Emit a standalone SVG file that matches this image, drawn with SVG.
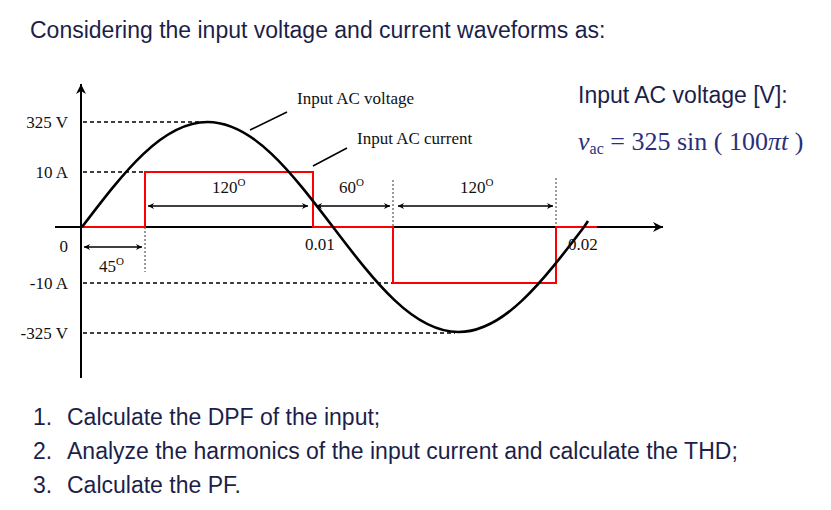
<svg xmlns="http://www.w3.org/2000/svg" width="831" height="510" viewBox="0 0 831 510">
<style>
.t{font-family:"Liberation Serif",serif;font-size:17px;fill:#111}
.s{font-family:"Liberation Sans",Arial,sans-serif;font-size:23px;fill:#1c1f4a}
.d{stroke:#000;stroke-width:1.6;stroke-dasharray:4 3;fill:none}
.v{stroke:#000;stroke-width:0.8;stroke-dasharray:2 2;fill:none}
.a{stroke:#000;stroke-width:1.3;fill:none;marker-start:url(#ah);marker-end:url(#ah)}
</style>
<defs>
<marker id="ah" viewBox="0 0 10 10" refX="10" refY="5" markerWidth="8" markerHeight="6" orient="auto-start-reverse" markerUnits="userSpaceOnUse"><path d="M0,0L10,5L0,10L3,5z" fill="#000"/></marker>
<marker id="big" viewBox="0 0 10 10" refX="10" refY="5" markerWidth="14" markerHeight="10" orient="auto" markerUnits="userSpaceOnUse"><path d="M0,0L10,5L0,10L3,5z" fill="#000"/></marker>
</defs>
<rect width="831" height="510" fill="#fff"/>
<text x="30" y="38" class="s">Considering the input voltage and current waveforms as:</text>
<g id="axes">
<line x1="55" y1="227" x2="663" y2="227" stroke="#000" stroke-width="2" marker-end="url(#big)"/>
<line x1="81" y1="378" x2="81" y2="84" stroke="#000" stroke-width="2" marker-end="url(#big)"/>
</g>
<g id="gridlines">
<line class="d" x1="83" y1="122" x2="205" y2="122"/>
<line class="d" x1="83" y1="172" x2="145" y2="172"/>
<line class="d" x1="83" y1="283" x2="393" y2="283"/>
<line class="d" x1="83" y1="333" x2="455" y2="333"/>
<line class="v" x1="145" y1="227" x2="145" y2="272"/>
<line class="v" x1="393" y1="180" x2="393" y2="227"/>
<line class="v" x1="556" y1="178" x2="556" y2="227"/>
</g>
<g id="ylabels" class="t" text-anchor="end">
<text x="68" y="128">325 V</text>
<text x="68" y="178">10 A</text>
<text x="68" y="252">0</text>
<text x="68" y="289">-10 A</text>
<text x="68" y="339">-325 V</text>
</g>
<g id="current">
<polyline points="82,227 145,227 145,172 313,172 313,227 393,227 393,283 556,283 556,227 597,227" fill="none" stroke="#f00" stroke-width="2"/>
</g>
<g id="voltage">
<path d="M82,227 C123.96,171.9 162.2,122 207.5,122 C252.8,122 291.04,171.9 333,227 C374.96,282.1 413.2,332 458.5,332 C503.8,332 542.04,282.1 584,227 L588,221" fill="none" stroke="#000" stroke-width="2.6" stroke-linejoin="round"/>
</g>
<g id="connectors">
<line class="a" x1="148" y1="206" x2="308" y2="206"/>
<line class="a" x1="316" y1="206" x2="390" y2="206"/>
<line class="a" x1="398" y1="206" x2="553" y2="206"/>
<line class="a" x1="84" y1="247" x2="142" y2="247"/>
<line x1="250" y1="130" x2="287" y2="112" stroke="#000" stroke-width="1.5"/>
<line x1="313" y1="166" x2="347" y2="148" stroke="#000" stroke-width="1.5"/>
</g>
<g id="labels" class="t">
<text x="212" y="193">120<tspan dy="-7" font-size="11">O</tspan></text>
<text x="339" y="193">60<tspan dy="-7" font-size="11">O</tspan></text>
<text x="460" y="193">120<tspan dy="-7" font-size="11">O</tspan></text>
<text x="99" y="272">45<tspan dy="-7" font-size="11">O</tspan></text>
<text x="305" y="250">0.01</text>
<text x="568" y="250">0.02</text>
<text x="297" y="104">Input AC voltage</text>
<text x="357" y="144">Input AC current</text>
</g>
<g id="formula">
<text x="578" y="103" class="s">Input AC voltage [V]:</text>
<text x="578" y="150" style="font-family:'Liberation Serif',serif;font-size:26px;fill:#2b2f7a"><tspan font-style="italic">v</tspan><tspan font-size="16" dy="4">ac</tspan><tspan dy="-4"> = 325 sin ( 100</tspan><tspan font-style="italic">πt</tspan> )</text>
</g>
<g id="questions" class="s">
<text x="33" y="425">1.</text><text x="67" y="425">Calculate the DPF of the input;</text>
<text x="33" y="459">2.</text><text x="67" y="459">Analyze the harmonics of the input current and calculate the THD;</text>
<text x="33" y="493">3.</text><text x="67" y="493">Calculate the PF.</text>
</g>
</svg>
